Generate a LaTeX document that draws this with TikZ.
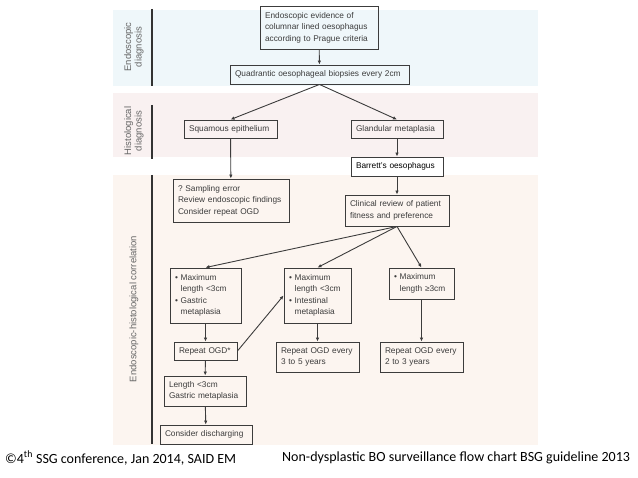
\documentclass[tikz,border=0pt]{standalone}
\usepackage{fontspec}
\setmainfont{Liberation Sans}
\newfontfamily\footfont{Carlito}
\usetikzlibrary{arrows.meta}

\definecolor{bandblue}{RGB}{239,247,250}
\definecolor{bandpink}{RGB}{249,241,241}
\definecolor{bandpeach}{RGB}{252,245,240}
\definecolor{boxgray}{RGB}{60,60,60}

\newcommand{\bul}{\textbullet~}
\newcommand{\ind}{\phantom{\textbullet~}}

\begin{document}
\frenchspacing
\begin{tikzpicture}[x=1pt,y=-1pt,
  box/.style={draw=boxgray,line width=0.9pt,text=boxgray,align=left,inner xsep=5pt,inner ysep=1pt,
    font=\fontsize{8.3}{11.5}\selectfont},
  conn/.style={draw=boxgray,line width=0.9pt,-{Latex[length=4pt,width=3.5pt]}},
  side/.style={text=black!60,rotate=90,align=center,font=\fontsize{9.5}{10.5}\selectfont},
  rule/.style={line width=1.6pt,black!80}]
\useasboundingbox (0,0) rectangle (638,478);

% bands
\fill[bandblue] (113,10) rectangle (538,86);
\fill[bandpink] (113,93) rectangle (538,157);
\fill[bandpeach] (113,175) rectangle (538,445);
\draw[rule] (152,9) -- (152,86);
\draw[rule] (152,105) -- (152,159);
\draw[rule] (152,175) -- (152,444);
\node[side] (lendo) at (134,47) {Endoscopic\\diagnosis};
\node[side] (lhist) at (134,131) {Histological\\diagnosis};
\node[side] (lcorr) at (134,309) {Endoscopic-histological correlation};

% boxes
\node[box,text width=108pt,minimum height=43pt] (evid) at (319,27.5)
  {Endoscopic evidence of\\columnar lined oesophagus\\according to Prague criteria};
\node[box,text width=169pt,minimum height=19pt] (biop) at (319.5,74.5)
  {Quadrantic oesophageal biopsies every 2cm};
\node[box,text width=83pt,minimum height=18pt] (squam) at (230.5,129) {Squamous epithelium};
\node[box,text width=82pt,minimum height=18pt] (gland) at (397,129) {Glandular metaplasia};
\node[box,fill=white,text=black,text width=82pt,minimum height=19pt] (barr) at (397,166.5) {Barrett’s oesophagus};
\node[box,text width=106pt,minimum height=43pt] (samp) at (231,200.5)
  {? Sampling error\\Review endoscopic findings\\Consider repeat OGD};
\node[box,text width=94pt,minimum height=31pt] (clin) at (397,210.5)
  {Clinical review of patient\\fitness and preference};
\node[box,text width=61pt,minimum height=55pt] (gast) at (205.5,295.5)
  {\bul Maximum\\\ind length <3cm\\\bul Gastric\\\ind metaplasia};
\node[box,text width=57pt,minimum height=55pt] (intes) at (317.5,295.5)
  {\bul Maximum\\\ind length <3cm\\\bul Intestinal\\\ind metaplasia};
\node[box,text width=55pt,minimum height=31pt] (long) at (421.5,283.5)
  {\bul Maximum\\\ind length ≥3cm};
\node[box,text width=53pt,minimum height=18pt] (rep) at (205.5,351) {Repeat OGD*};
\node[box,text width=73pt,minimum height=30pt] (rep35) at (317.5,357) {Repeat OGD every\\3 to 5 years};
\node[box,text width=73pt,minimum height=30pt] (rep23) at (421.5,357) {Repeat OGD every\\2 to 3 years};
\node[box,text width=72pt,minimum height=30pt] (len) at (205,391) {Length <3cm\\Gastric metaplasia};
\node[box,text width=82pt,minimum height=19pt] (disc) at (206,434.5) {Consider discharging};

% connectors
\draw[conn] (evid) -- (biop);
\draw[conn] (biop.south) -- (squam.north);
\draw[conn] (biop.south) -- (gland.north);
\draw[conn] (squam) -- (samp);
\draw[conn] (gland) -- (barr);
\draw[conn] (barr) -- (clin);
\draw[conn] (clin.south) -- (gast.north);
\draw[conn] (clin.south) -- (intes.north);
\draw[conn] (clin.south) -- (long.north);
\draw[conn] (gast) -- (rep);
\draw[conn] (rep.east) -- (intes.west);
\draw[conn] (intes) -- (rep35);
\draw[conn] (long) -- (rep23);
\draw[conn] (rep) -- (len);
\draw[conn] (len) -- (disc);

% footer
\node[anchor=west,inner sep=0pt,font=\footfont\fontsize{14}{16}\selectfont] (credit) at (5,458)
  {©4\textsuperscript{th} SSG conference, Jan 2014, SAID EM};
\node[anchor=west,inner sep=0pt,font=\footfont\fontsize{14}{16}\selectfont] (title) at (282,458)
  {Non-dysplastic BO surveillance flow chart BSG guideline 2013};
\end{tikzpicture}
\end{document}
